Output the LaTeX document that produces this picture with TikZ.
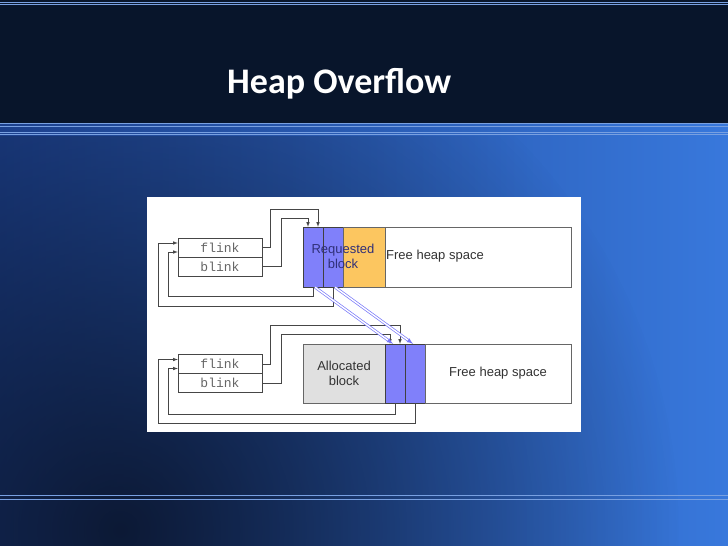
\documentclass[tikz,border=0pt]{standalone}
\usepackage{fontspec}
\setmainfont{Carlito}
\newfontfamily\arialf{Liberation Sans}
\newfontfamily\courf{Liberation Mono}
\usepackage{tikz}
\usetikzlibrary{arrows,positioning,calc,fadings}

\definecolor{headbg}{RGB}{8,21,43}
\definecolor{rule}{RGB}{120,160,225}
\definecolor{bodyl}{RGB}{28,64,140}
\definecolor{bodym}{RGB}{36,90,190}
\definecolor{bodyr}{RGB}{56,120,220}
\definecolor{darkspot}{RGB}{10,20,42}
\definecolor{cellblue}{RGB}{128,128,250}
\definecolor{cellorange}{RGB}{252,198,96}
\definecolor{allocgray}{RGB}{224,224,224}
\definecolor{linkgray}{RGB}{70,70,70}
\definecolor{diagblue}{RGB}{120,120,250}

\tikzfading[name=darkcorner, inner color=transparent!10, outer color=transparent!100]

\begin{document}
\begin{tikzpicture}[x=1pt, y=-1pt,
    ptr/.style={rectangle, draw=linkgray, fill=white, minimum width=84pt, minimum height=19pt, inner sep=0pt, font=\courf\fontsize{13}{13}\selectfont, text=black!60},
    cell/.style={rectangle, draw=black!75, fill=cellblue, minimum width=20pt, minimum height=60pt, inner sep=0pt},
    area/.style={rectangle, draw=black!60, fill=white, minimum height=60pt, inner sep=0pt, font=\arialf\fontsize{13}{15}\selectfont, text=black!80},
    link/.style={draw=linkgray, line width=0.6pt},
    over/.style={draw=diagblue, line width=0.7pt, double=white, double distance=1.4pt, -latex}
]
    % slide background
    \useasboundingbox (0,0) rectangle (728,546);
    \fill[headbg] (0,0) rectangle (728,124);
    \shade[left color=bodyl, middle color=bodym, right color=bodyr] (0,124) rectangle (728,546);
    \begin{scope}
        \clip (0,136) rectangle (728,546);
        \fill[darkspot, path fading=darkcorner] (120,530) circle (560);
    \end{scope}
    \draw[rule, line width=0.8pt] (0,2.3) -- (728,2.3) (0,4.5) -- (728,4.5);
    \draw[rule, line width=0.8pt] (0,123.4) -- (728,123.4) (0,126) -- (728,126);
    \draw[rule, line width=0.8pt] (0,132) -- (728,132) (0,134.7) -- (728,134.7);
    \draw[rule, line width=0.8pt] (0,495.3) -- (728,495.3) (0,499.3) -- (728,499.3);

    \node[anchor=base west, inner sep=0pt, text=white, font=\bfseries\fontsize{36}{36}\selectfont] (title) at (227,93) {Heap Overflow};

    % picture panel
    \fill[white] (147,197) rectangle (581,432);

    % before: requested block
    \node[ptr] (flinkA) at (220,247.5) {flink};
    \node[ptr] (blinkA) at (220,266.5) {blink};
    \node[cell] (reqA) at (313,257) {};
    \node[cell] (reqB) at (333,257) {};
    \node[area, fill=cellorange, draw=black!60, minimum width=42pt] (reqC) at (364,257) {};
    \node[area, minimum width=186pt, anchor=west, align=left] (freeA) at (385,257) {};
    \node[area, draw=none, fill=none, anchor=west, inner sep=1pt] (freeTxtA) at (385,256) {Free heap space};
    \node[font=\arialf\fontsize{13}{15}\selectfont, text={rgb,255:red,48;green,48;blue,120}, align=center] (reqTxt) at (343,256) {Requested\\block};

    \draw[link, -latex] (flinkA.east) -- ++(8,0) |- ([xshift=5pt,yshift=18pt]reqA.north) -- ([xshift=5pt]reqA.north);
    \draw[link, -latex] (blinkA.east) -- ++(19,0) |- ([xshift=-5pt,yshift=9pt]reqA.north) -- ([xshift=-5pt]reqA.north);
    \draw[link, -latex] (reqA.south) -- ++(0,9) -| ([xshift=-10pt,yshift=-4.5pt]flinkA.west) -- ([yshift=-4.5pt]flinkA.west);
    \draw[link, -latex] (reqB.south) -- ++(0,19) -| ([xshift=-20pt,yshift=4.5pt]flinkA.west) -- ([yshift=4.5pt]flinkA.west);

    % after: allocated block
    \node[ptr] (flinkB) at (220,364) {flink};
    \node[ptr] (blinkB) at (220,383) {blink};
    \node[area, fill=allocgray, minimum width=82pt, minimum height=59pt, align=center] (alloc) at (344,373.5) {Allocated\\block};
    \node[cell, minimum height=59pt] (newA) at (395,373.5) {};
    \node[cell, minimum height=59pt] (newB) at (415,373.5) {};
    \node[area, minimum width=146pt, minimum height=59pt] (freeB) at (498,373.5) {Free heap space};

    \draw[link, -latex] (flinkB.east) -- ++(8,0) |- ([xshift=5pt,yshift=19pt]newA.north) -- ([xshift=5pt]newA.north);
    \draw[link, -latex] (blinkB.east) -- ++(19,0) |- ([xshift=-5pt,yshift=10pt]newA.north) -- ([xshift=-5pt]newA.north);
    \draw[link, -latex] (newA.south) -- ++(0,11) -| ([xshift=-10pt,yshift=-4.5pt]flinkB.west) -- ([yshift=-4.5pt]flinkB.west);
    \draw[link, -latex] (newB.south) -- ++(0,20) -| ([xshift=-20pt,yshift=4.5pt]flinkB.west) -- ([yshift=4.5pt]flinkB.west);

    % overflow of the header
    \draw[over] ([xshift=2pt]reqA.south) -- ([xshift=-2pt]newA.north);
    \draw[over] ([xshift=2pt]reqB.south) -- ([xshift=-2pt]newB.north);
\end{tikzpicture}
\end{document}
